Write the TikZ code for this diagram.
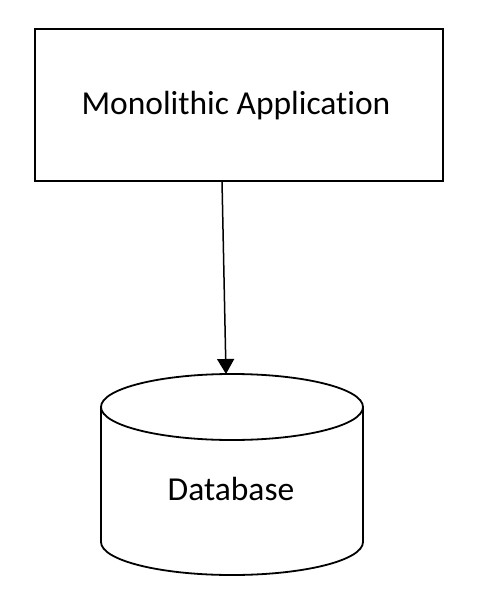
\documentclass[tikz,border=0pt]{standalone}
\usepackage{fontspec}
\setmainfont[Ligatures=NoCommon]{Carlito}
\usetikzlibrary{arrows.meta}
\begin{document}
\begin{tikzpicture}[x=1pt,y=-1pt,line width=1.8pt,
  box/.style={draw,minimum width=408pt,minimum height=152pt,inner sep=0pt},
  lbl/.style={font=\fontsize{33.5}{38}\selectfont,inner sep=0pt},
  conn/.style={-{Triangle[length=15pt,width=17pt]},line width=1.5pt}]
\useasboundingbox (0,0) rectangle (482,594);
\node[box] (app) at (239,105) {};
\node[lbl] (applbl) at (236,106) {Monolithic Application};
% cylinder
\draw (101,407) -- (101,542) arc[start angle=180,end angle=0,x radius=131,y radius=33] -- (363,407);
\draw (232,407) ellipse[x radius=131,y radius=33];
\coordinate (dbtop) at (226,374);
\coordinate (appbot) at (222,181);
\node[lbl] (db) at (231,489) {Database};
\draw[conn] (appbot) -- (dbtop);
\end{tikzpicture}
\end{document}
